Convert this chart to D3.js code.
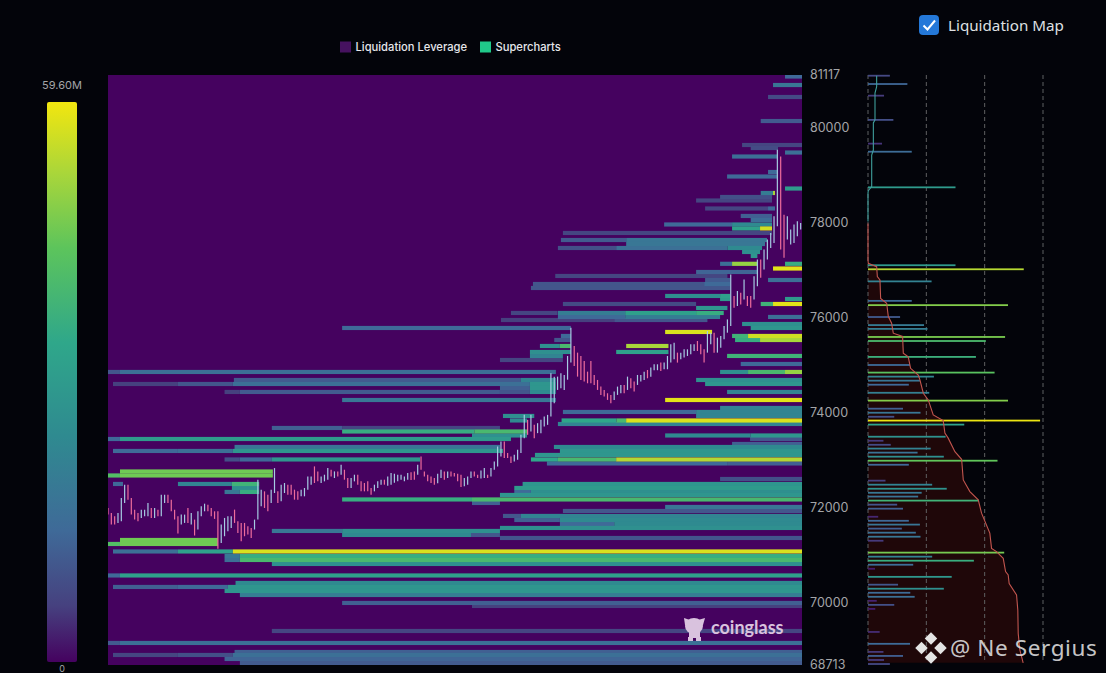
<!DOCTYPE html>
<html>
<head>
<meta charset="utf-8">
<script src="https://cdn.jsdelivr.net/npm/d3@7"></script>
<style>
  html, body { margin: 0; padding: 0; background: #03040a; overflow: hidden; }
  text { font-family: Inter, "Noto Sans", sans-serif; }
</style>
</head>
<body>
<script>
// price axis
const priceTicks = [81117, 80000, 78000, 76000, 74000, 72000, 70000, 68713];
const maxLabel = "59.60M";

// candles, one per time slot
const candleHigh = [
  72000,71895,71825,71895,72210,72490,72490,72210,71965,71895,71965,71965,72105,72000,72000,71965,
  72280,72280,72280,72175,71965,
  71825,71860,71860,72000,71895,71755,71930,72035,72090,72070,72000,71930,71930,71650,71790,71825,71825,71965,
  71720,71685,71685,71615,71580,71755,72595,72385,72350,72280,72385,72840,72350,72490,72525,72490,72490,72385,72350,72385,72420,
  72665,72665,72875,72770,72665,72700,72840,72805,72770,72770,72910,72805,72630,72630,72700,72700,72560,72525,72560,
  72420,72490,72560,72595,72595,72665,72735,72720,72700,72700,72665,72735,72750,
  72770,72910,73085,72770,72700,72665,72630,72720,
  72805,72770,72770,72770,72735,72720,72700,72630,72665,72770,72770,72700,72790,
  72840,72700,72840,72980,
  73295,73400,73400,73155,73085,73120,73225,73540,73960,73855,
  73960,73750,73785,73855,73925,73960,74835,74765,74765,74835,
  74800,75200,75795,
  75410,75270,75200,75095,74870,75095,74800,74695,74555,74485,
  74415,74380,74450,74555,74590,74590,74765,74730,74660,74800,
  74800,74870,74905,74955,75025,75025,75060,75060,75200,75445,
  75480,75270,75270,75340,75340,75445,75445,75515,75445,75340,
  75725,75690,75690,75585,75620,75830,75970,76915,76460,76565,
  76530,76810,76460,76460,76880,77230,77230,77440,77650,77790,
  78140,79540,79400,78175,78140,77860,77965,78035,78000
];
const candleLow = [
  71860,71650,71650,71685,71720,72105,72175,71860,71755,71720,71790,71825,71825,71790,71790,71825,
  71825,72105,72105,71930,71755,
  71460,71650,71685,71685,71650,71420,71545,71825,71930,71930,71825,71770,71140,71265,71405,71510,71580,71685,
  71475,71300,71405,71440,71370,71545,71755,72035,72000,71930,72105,72315,72105,72140,72315,72280,72280,72175,72175,72245,72245,
  72385,72490,72525,72560,72525,72560,72595,72665,72630,72665,72700,72595,72420,72420,72560,72490,72350,72350,72350,
  72280,72350,72420,72490,72490,72470,72490,72530,72560,72595,72560,72595,72590,
  72595,72700,72805,72665,72560,72525,72490,72520,
  72630,72595,72630,72665,72665,72560,72440,72455,72490,72630,72665,72630,72620,
  72630,72630,72665,72805,
  72875,73085,73050,73050,72945,72980,73015,73155,73470,73540,
  73610,73470,73575,73575,73715,73750,73925,74205,74485,74520,
  74485,74700,75060,
  74990,74765,74695,74660,74625,74625,74590,74485,74380,74345,
  74275,74205,74275,74380,74415,74415,74485,74520,74450,74590,
  74660,74695,74730,74760,74900,74900,74885,74920,74920,75060,
  75130,75060,75130,75165,75200,75235,75305,75305,75235,75060,
  75270,75445,75270,75270,75375,75550,75690,75830,76215,76250,
  76285,76390,76250,76215,76390,76670,76845,77020,77230,77475,
  77580,77930,77440,77265,77650,77545,77580,77720,77860
];
const candleUp = [
  0,0,0,1,1,1,0,0,0,0,1,1,1,0,1,0,
  1,1,0,0,0,
  0,1,1,0,1,0,1,1,1,0,0,0,0,1,1,1,1,0,
  0,0,0,0,0,1,1,1,0,0,1,1,0,1,1,0,0,0,0,1,1,
  1,1,0,0,1,1,1,0,1,0,1,0,0,1,1,0,0,0,0,
  0,1,1,1,0,1,1,1,1,1,1,1,0,
  0,1,0,0,0,0,0,1,
  1,0,1,0,0,0,0,1,1,1,0,0,1,
  1,0,1,1,
  1,1,0,0,0,1,1,1,1,0,
  1,0,1,1,1,1,1,1,1,1,
  1,1,1,
  0,0,0,0,0,0,0,0,0,0,
  0,0,1,1,1,0,1,0,0,1,
  1,1,0,1,1,1,0,1,1,1,
  1,0,1,1,1,1,1,0,0,0,
  1,1,0,1,1,1,1,1,0,1,
  0,1,0,0,1,1,0,1,1,1,
  1,1,0,0,1,1,1,1,1
];

// heatmap rows: price, then [from slot, to slot, liquidation in M]
const heatRows = [
  [81083,[203.3,208.4,14]],
  [80904,[199.7,208.4,18]],
  [80652,[198.2,208.4,8]],
  [80146,[196,208.4,11]],
  [79641,[190.4,208.4,7]],
  [79578,[193,201.2,8]],
  [79483,[203.3,208.4,16]],
  [79399,[187.4,201,16]],
  [79073,[198.2,201,14]],
  [78978,[185.9,201,14]],
  [78725,[203.3,208.4,30]],
  [78631,[196,199.7,20],[199.7,200.3,52]],
  [78547,[183.8,199.4,9]],
  [78473,[176.6,199.4,7]],
  [78305,[179.3,198.2,7],[198.2,200.3,14]],
  [78147,[190,199.4,12]],
  [78063,[193,199.4,15]],
  [77968,[167,187.4,14],[187.4,199.4,24]],
  [77884,[187.4,195.8,32],[195.8,199.4,56]],
  [77789,[136.6,199.4,7]],
  [77641,[136,155.6,11],[155.6,197.9,18]],
  [77557,[155.6,197.3,18]],
  [77473,[135.1,152.6,9],[152.6,186,16],[186,196.4,24]],
  [77389,[190.4,195.8,26]],
  [77305,[193,195,28]],
  [77140,[183.8,187.4,16],[187.4,195,50],[203.3,208.4,36]],
  [77041,[199.7,208.4,58]],
  [76968,[176.6,195,13]],
  [76884,[134.3,186,7]],
  [76799,[179.3,186.8,11],[198.2,208.4,16]],
  [76715,[127.6,179,10],[179,186.8,14]],
  [76631,[127,186.8,10]],
  [76463,[167.3,183.8,26],[183.8,186.8,32]],
  [76399,[183.8,186.8,30],[203.3,208.4,30]],
  [76294,[136.6,176.6,8],[196,199.7,38],[199.7,208.4,58]],
  [76210,[176.6,186,28]],
  [76105,[121,135,7],[135.1,155.3,20],[155.3,176.6,32],[176.6,184.9,36]],
  [76021,[135.1,155.3,14],[155.3,183.8,20],[198.2,208.4,16]],
  [75957,[118,152,6],[152,180,10]],
  [75873,[190.4,208.4,26]],
  [75789,[70.3,139,14],[193,208.4,28]],
  [75705,[167.3,181.4,57]],
  [75621,[136,139,14],[187.4,192.2,38],[192.2,208.4,56]],
  [75536,[134,139,10],[188.3,195.8,36],[195.8,208.4,52]],
  [75410,[129.7,135.7,26],[135.7,139,40],[155.6,168.3,52]],
  [75284,[126.7,139,26],[152.6,168.3,32]],
  [75200,[126.7,136.6,22],[185.9,208.4,38]],
  [75115,[117.7,136.6,7]],
  [75031,[190,208.4,14]],
  [74863,[0,3.6,10],[3.6,134.5,16],[183.8,192.2,26],[192.2,203.3,40],[203.3,208.4,50]],
  [74694,[37.8,124,11],[124,134.5,22],[176.6,208.4,26]],
  [74610,[1.5,21,6],[21,37.5,10],[37.5,126.7,16],[126.7,134.5,28],[179.3,208.4,28]],
  [74526,[117.7,126.7,12],[126.7,134.5,28]],
  [74442,[35,39.6,6],[39.6,117.7,11],[117.7,126.7,10],[126.7,134.5,24],[185.9,208.4,22]],
  [74273,[70.3,134.5,18],[167.3,208.4,58]],
  [74105,[183.8,208.4,22]],
  [74021,[136.6,176.6,14],[176.6,208.4,22]],
  [73937,[118.6,128,26],[176.6,208.4,22]],
  [73842,[120.7,125.8,24],[136.2,152.7,34],[152.7,155.6,40],[155.6,208.4,57]],
  [73768,[135.1,208.4,22]],
  [73684,[49.2,70.3,12],[70.3,117.7,7]],
  [73610,[70.3,110,36],[110,125.8,40]],
  [73526,[109.3,125.8,26],[167.3,193,24],[193,208.4,28]],
  [73452,[0,3.6,14],[3.6,121,30],[192.8,208.4,10]],
  [73347,[187.4,208.4,12]],
  [73284,[38,117.7,18],[133.9,208.4,24]],
  [73200,[1.5,21,14],[21,37.5,16],[37.5,118.6,28],[135.7,208.4,28]],
  [73116,[128.2,208.4,28]],
  [73021,[35,39.6,9],[39.6,49.2,14],[49.2,93.7,28],[127,135.1,34],[135.1,152.6,40],[152.6,208.4,53]],
  [72937,[131.8,185.9,14],[185.9,208.4,12]],
  [72768,[3.6,49.5,46]],
  [72684,[0,3.6,42],[3.6,49.5,46]],
  [72610,[183.8,208.4,9]],
  [72505,[1.5,4.5,14],[21,37.2,22],[37.2,45.4,38],[124.5,208.4,28]],
  [72421,[37.2,45.4,26],[122,208.4,30]],
  [72337,[35,39.6,18],[39.6,45.4,36],[122,127,14],[127,208.4,26]],
  [72274,[117.7,208.4,28]],
  [72179,[70.3,109.3,36],[109.3,208.4,40]],
  [72105,[109.3,117.7,12]],
  [72021,[167.3,208.4,18]],
  [71937,[136.6,208.4,10]],
  [71832,[118.6,124,10],[124,208.4,22]],
  [71747,[122,135.7,12],[135.7,208.4,24]],
  [71663,[135.7,152,14],[152,208.4,24]],
  [71579,[117.7,208.4,26]],
  [71516,[49.2,70.3,18],[70.3,117.7,26]],
  [71432,[70.3,109,24],[109,117.7,10]],
  [71368,[117.7,208.4,10]],
  [71326,[3.6,33,46]],
  [71242,[0,3.6,42],[3.6,33,46]],
  [71084,[1.5,21,16],[21,37.5,32],[37.5,208.4,57]],
  [70990,[35,39.6,18],[39.6,208.4,36]],
  [70905,[35,39.6,16],[39.6,208.4,40]],
  [70821,[49.2,208.4,26]],
  [70579,[0,3.6,14],[3.6,208.4,32]],
  [70421,[38.3,208.4,24]],
  [70337,[1.5,21,12],[21,36,14],[36,208.4,28]],
  [70253,[35,208.4,28]],
  [70168,[39.6,208.4,20]],
  [70000,[70.3,208.4,12]],
  [69937,[109.3,208.4,6]],
  [69410,[49.2,208.4,7]],
  [69158,[0,3.6,11],[3.6,208.4,16]],
  [68968,[38,208.4,12]],
  [68905,[1.5,21,7],[21,37.5,9],[37.5,208.4,16]],
  [68821,[35,208.4,13]],
  [68737,[39.6,208.4,11]]
];

// liquidation profile on the right
const profilePrice = [
  81100,80925,80680,80170,79670,79500,78750,77110,77025,76770,
  76360,76270,76020,75850,75770,75600,75515,75180,75010,74850,
  74765,74680,74595,74425,74260,74090,74005,73920,73840,73755,
  73500,73415,73330,73250,73165,73080,72995,72910,72575,72490,
  72405,72320,72240,72155,72070,71985,71815,71730,71650,71565,
  71480,71395,71310,71060,70975,70890,70805,70720,70550,70385,
  70300,70215,70130,70045,69960,69875,69390,69140,68970,68885,
  68800,68715
];
const profileValue = [
  7.5,13.5,5.5,8.7,4.8,15,30,30,53.4,21.8,
  15,48,11,19.2,20.4,47,40.4,37,14.4,43.4,
  22.6,17.8,14,21,48,12,18,9,59,33,
  26.6,5.3,7.8,21.5,17,26,44.4,14,6,22,
  27,18.4,17.2,38,10,12,3.5,14,17.8,11.6,
  16.4,18,5.3,46.7,22,36.3,15.5,2.4,28.7,10.3,
  26,14.5,16,3,9,2.5,4,14.4,5.3,12,
  5.5,7.5
];
const profileTicks = [0, 20, 40, 60];

// cumulative lines, short side above the price and long side below
const cumShortPrice = [81100,80870,80735,80170,80105,79535,79430,78765,78680,78630,78030];
const cumShort = [89,89,72,72,55,55,38,38,3,0,0];
const cumLongPrice = [
  77990,77220,77150,77080,76870,76800,76410,76310,76030,75890,75680,75610,75260,75180,74940,
  74800,74695,74415,74275,73960,73840,73575,73470,73185,73025,72590,72345,72170,71890,71470,
  71150,71080,70940,70660,70590,70410,70170,69850,69360,69010,68740
];
const cumLong = [
  0,0,3,89,96,123,130,192,209,243,260,356,363,414,438,
  517,534,569,620,671,774,791,825,894,963,980,1048,1134,1168,1253,
  1271,1322,1391,1415,1442,1452,1528,1541,1545,1562,1596
];

// colour stops for the heat scale
const heatStops = [0, 6, 14, 24, 34, 44, 52, 59.6];
const heatColors = ["#45025f","#46417f","#3f6a98","#2f8a90","#2fa78a","#5cc45c","#a9d63a","#f2e60f"];

const width = 1106, height = 673;
const plot = { left: 108, right: 802, top: 75, bottom: 665 };

const svg = d3.select("body").append("svg")
  .attr("width", width)
  .attr("height", height)
  .style("display", "block");

const x = d3.scaleLinear().domain([0, 208.4]).range([plot.left, plot.right]);
const y = d3.scaleLinear().domain([68713, 81117]).range([664.1, 74.9]);
const color = d3.scaleLinear().domain(heatStops).range(heatColors).clamp(true);
const rowSize = y(0) - y(88);

svg.append("clipPath").attr("id", "plot-clip")
  .append("rect")
  .attr("x", plot.left).attr("y", plot.top)
  .attr("width", plot.right - plot.left).attr("height", plot.bottom - plot.top);

function drawHeatmap() {
  const g = svg.append("g").attr("clip-path", "url(#plot-clip)");
  g.append("rect")
    .attr("x", plot.left).attr("y", plot.top)
    .attr("width", plot.right - plot.left).attr("height", plot.bottom - plot.top)
    .attr("fill", heatColors[0]);

  // strongest cells go last so the bright rows stay on top
  const segments = heatRows
    .flatMap(row => row.slice(1).map(s => ({ price: row[0], from: s[0], to: s[1], value: s[2] })))
    .sort((a, b) => a.value - b.value);
  g.selectAll("rect.cell")
    .data(segments)
    .enter()
    .append("rect")
    .attr("class", "cell")
    .attr("x", d => x(d.from))
    .attr("y", d => y(d.price) - rowSize / 2)
    .attr("width", d => x(d.to) - x(d.from))
    .attr("height", rowSize)
    .attr("fill", d => color(d.value));
}

function drawCandles() {
  svg.append("g").attr("clip-path", "url(#plot-clip)")
    .selectAll("line")
    .data(candleHigh)
    .enter()
    .append("line")
    .attr("x1", (d, i) => x(i))
    .attr("x2", (d, i) => x(i))
    .attr("y1", d => y(d))
    .attr("y2", (d, i) => y(candleLow[i]))
    .attr("stroke", (d, i) => candleUp[i] ? "#a6cbe2" : "#ee6c9c")
    .attr("stroke-width", 1.2);
}

function drawPriceAxis() {
  const axis = d3.axisRight(y)
    .tickValues(priceTicks)
    .tickFormat(d3.format("d"))
    .tickSize(0)
    .tickPadding(8);
  const g = svg.append("g")
    .attr("transform", "translate(" + plot.right + ",0)")
    .call(axis);
  g.select(".domain").remove();
  g.selectAll("text")
    .attr("fill", "#a3a5a8")
    .style("font-size", "12.5px")
    .style("font-family", "Inter, sans-serif");
}

function drawColorBar() {
  const stripY = d3.scaleLinear().domain([0, 59.6]).range([662, 102]);
  const grad = svg.append("linearGradient")
    .attr("id", "heat-bar")
    .attr("x1", 0).attr("x2", 0).attr("y1", 1).attr("y2", 0);
  heatStops.forEach((s, i) => {
    grad.append("stop").attr("offset", s / 59.6).attr("stop-color", heatColors[i]);
  });
  svg.append("rect")
    .attr("x", 47).attr("width", 30)
    .attr("y", stripY(59.6)).attr("height", stripY(0) - stripY(59.6))
    .attr("rx", 2)
    .attr("fill", "url(#heat-bar)");
  svg.append("text")
    .attr("x", 62).attr("y", 89)
    .attr("text-anchor", "middle")
    .attr("fill", "#a3a5a8")
    .style("font-size", "11px")
    .text(maxLabel);
  svg.append("text")
    .attr("x", 62).attr("y", 672)
    .attr("text-anchor", "middle")
    .attr("fill", "#a3a5a8")
    .style("font-size", "9px")
    .text("0");
}

function drawLegend() {
  const items = [
    { label: "Liquidation Leverage", swatch: "#46125f", at: 340 },
    { label: "Supercharts", swatch: "#20c98a", at: 480 }
  ];
  const g = svg.selectAll("g.legend").data(items).enter().append("g")
    .attr("class", "legend")
    .attr("transform", d => "translate(" + d.at + ",41.5)");
  g.append("rect").attr("width", 11).attr("height", 11).attr("fill", d => d.swatch);
  g.append("text")
    .attr("x", 15.5).attr("y", 9.5)
    .attr("fill", "#e6e7ea")
    .style("font-size", "11.2px")
    .style("font-weight", 500)
    .text(d => d.label);
}

function drawProfile() {
  const vx = d3.scaleLinear().domain([0, 60]).range([868, 1043]);
  const cx = d3.scaleLinear().domain([0, 1800]).range([868, 1043]);

  const longPoints = cumLongPrice.map((p, i) => [p, cumLong[i]]);
  const shortPoints = cumShortPrice.map((p, i) => [p, cumShort[i]]);

  svg.append("path")
    .datum(longPoints)
    .attr("fill", "#1f0709")
    .attr("d", d3.area().x0(868).x1(d => cx(d[1])).y(d => y(d[0])));

  svg.selectAll("line.grid")
    .data(profileTicks)
    .enter()
    .append("line")
    .attr("class", "grid")
    .attr("x1", d => vx(d)).attr("x2", d => vx(d))
    .attr("y1", plot.top).attr("y2", 663)
    .attr("stroke", "#5f6062")
    .attr("stroke-width", 1)
    .attr("stroke-dasharray", "4 3");

  svg.selectAll("rect.profile")
    .data(profileValue)
    .enter()
    .append("rect")
    .attr("class", "profile")
    .attr("x", vx(0))
    .attr("y", (d, i) => y(profilePrice[i]) - 0.9)
    .attr("width", d => vx(d) - vx(0))
    .attr("height", 1.8)
    .attr("fill", d => color(d));

  const line = d3.line().x(d => cx(d[1])).y(d => y(d[0]));
  svg.append("path").datum(shortPoints)
    .attr("fill", "none").attr("stroke", "#3f9f9c").attr("stroke-width", 1.1).attr("d", line);
  svg.append("path").datum(longPoints)
    .attr("fill", "none").attr("stroke", "#c2564f").attr("stroke-width", 1.1).attr("d", line);
}

function drawCheckbox() {
  svg.append("rect")
    .attr("x", 919).attr("y", 15).attr("width", 20).attr("height", 20).attr("rx", 4)
    .attr("fill", "#2478d8");
  svg.append("path")
    .attr("d", "M923.5 25.5 L927.5 29.5 L935 20.5")
    .attr("fill", "none").attr("stroke", "#fff").attr("stroke-width", 2);
  svg.append("text")
    .attr("x", 948).attr("y", 31)
    .attr("fill", "#dfe0e3")
    .style("font-size", "15.2px")
    .style("font-family", "'Noto Sans', sans-serif")
    .text("Liquidation Map");
}

function drawWatermarks() {
  // coinglass mascot
  const m = svg.append("g").attr("fill", "#d9c2de");
  m.append("ellipse").attr("cx", 694).attr("cy", 626).attr("rx", 9).attr("ry", 8);
  m.append("path").attr("d", "M684 618 L690 620 L698 620 L705 618 L703 625 L685 625 Z");
  m.append("rect").attr("x", 689).attr("y", 632).attr("width", 11).attr("height", 6);
  m.append("rect").attr("x", 688).attr("y", 637).attr("width", 5).attr("height", 4);
  m.append("rect").attr("x", 696).attr("y", 637).attr("width", 5).attr("height", 4);
  svg.append("text")
    .attr("x", 711).attr("y", 634)
    .attr("fill", "#d9c2de")
    .style("font-size", "18px")
    .style("font-weight", 700)
    .style("font-family", "Lato, sans-serif")
    .text("coinglass");

  // binance style mark and author
  const b = svg.append("g").attr("fill", "#e4e4e4").attr("transform", "translate(931,648)");
  [[0, -9.5], [-9.5, 0], [9.5, 0], [0, 9.5]].forEach(c => {
    b.append("rect").attr("x", c[0] - 4.4).attr("y", c[1] - 4.4).attr("width", 8.8).attr("height", 8.8)
      .attr("transform", "rotate(45 " + c[0] + " " + c[1] + ")");
  });
  svg.append("text")
    .attr("x", 950).attr("y", 656)
    .attr("fill", "#e0e0e0")
    .attr("fill-opacity", 0.9)
    .style("font-size", "22.5px")
    .style("font-family", "'Noto Sans', sans-serif")
    .style("letter-spacing", "0.6px")
    .text("@ Ne Sergius");
}

drawHeatmap();
drawCandles();
drawPriceAxis();
drawColorBar();
drawLegend();
drawProfile();
drawCheckbox();
drawWatermarks();
</script>
</body>
</html>
